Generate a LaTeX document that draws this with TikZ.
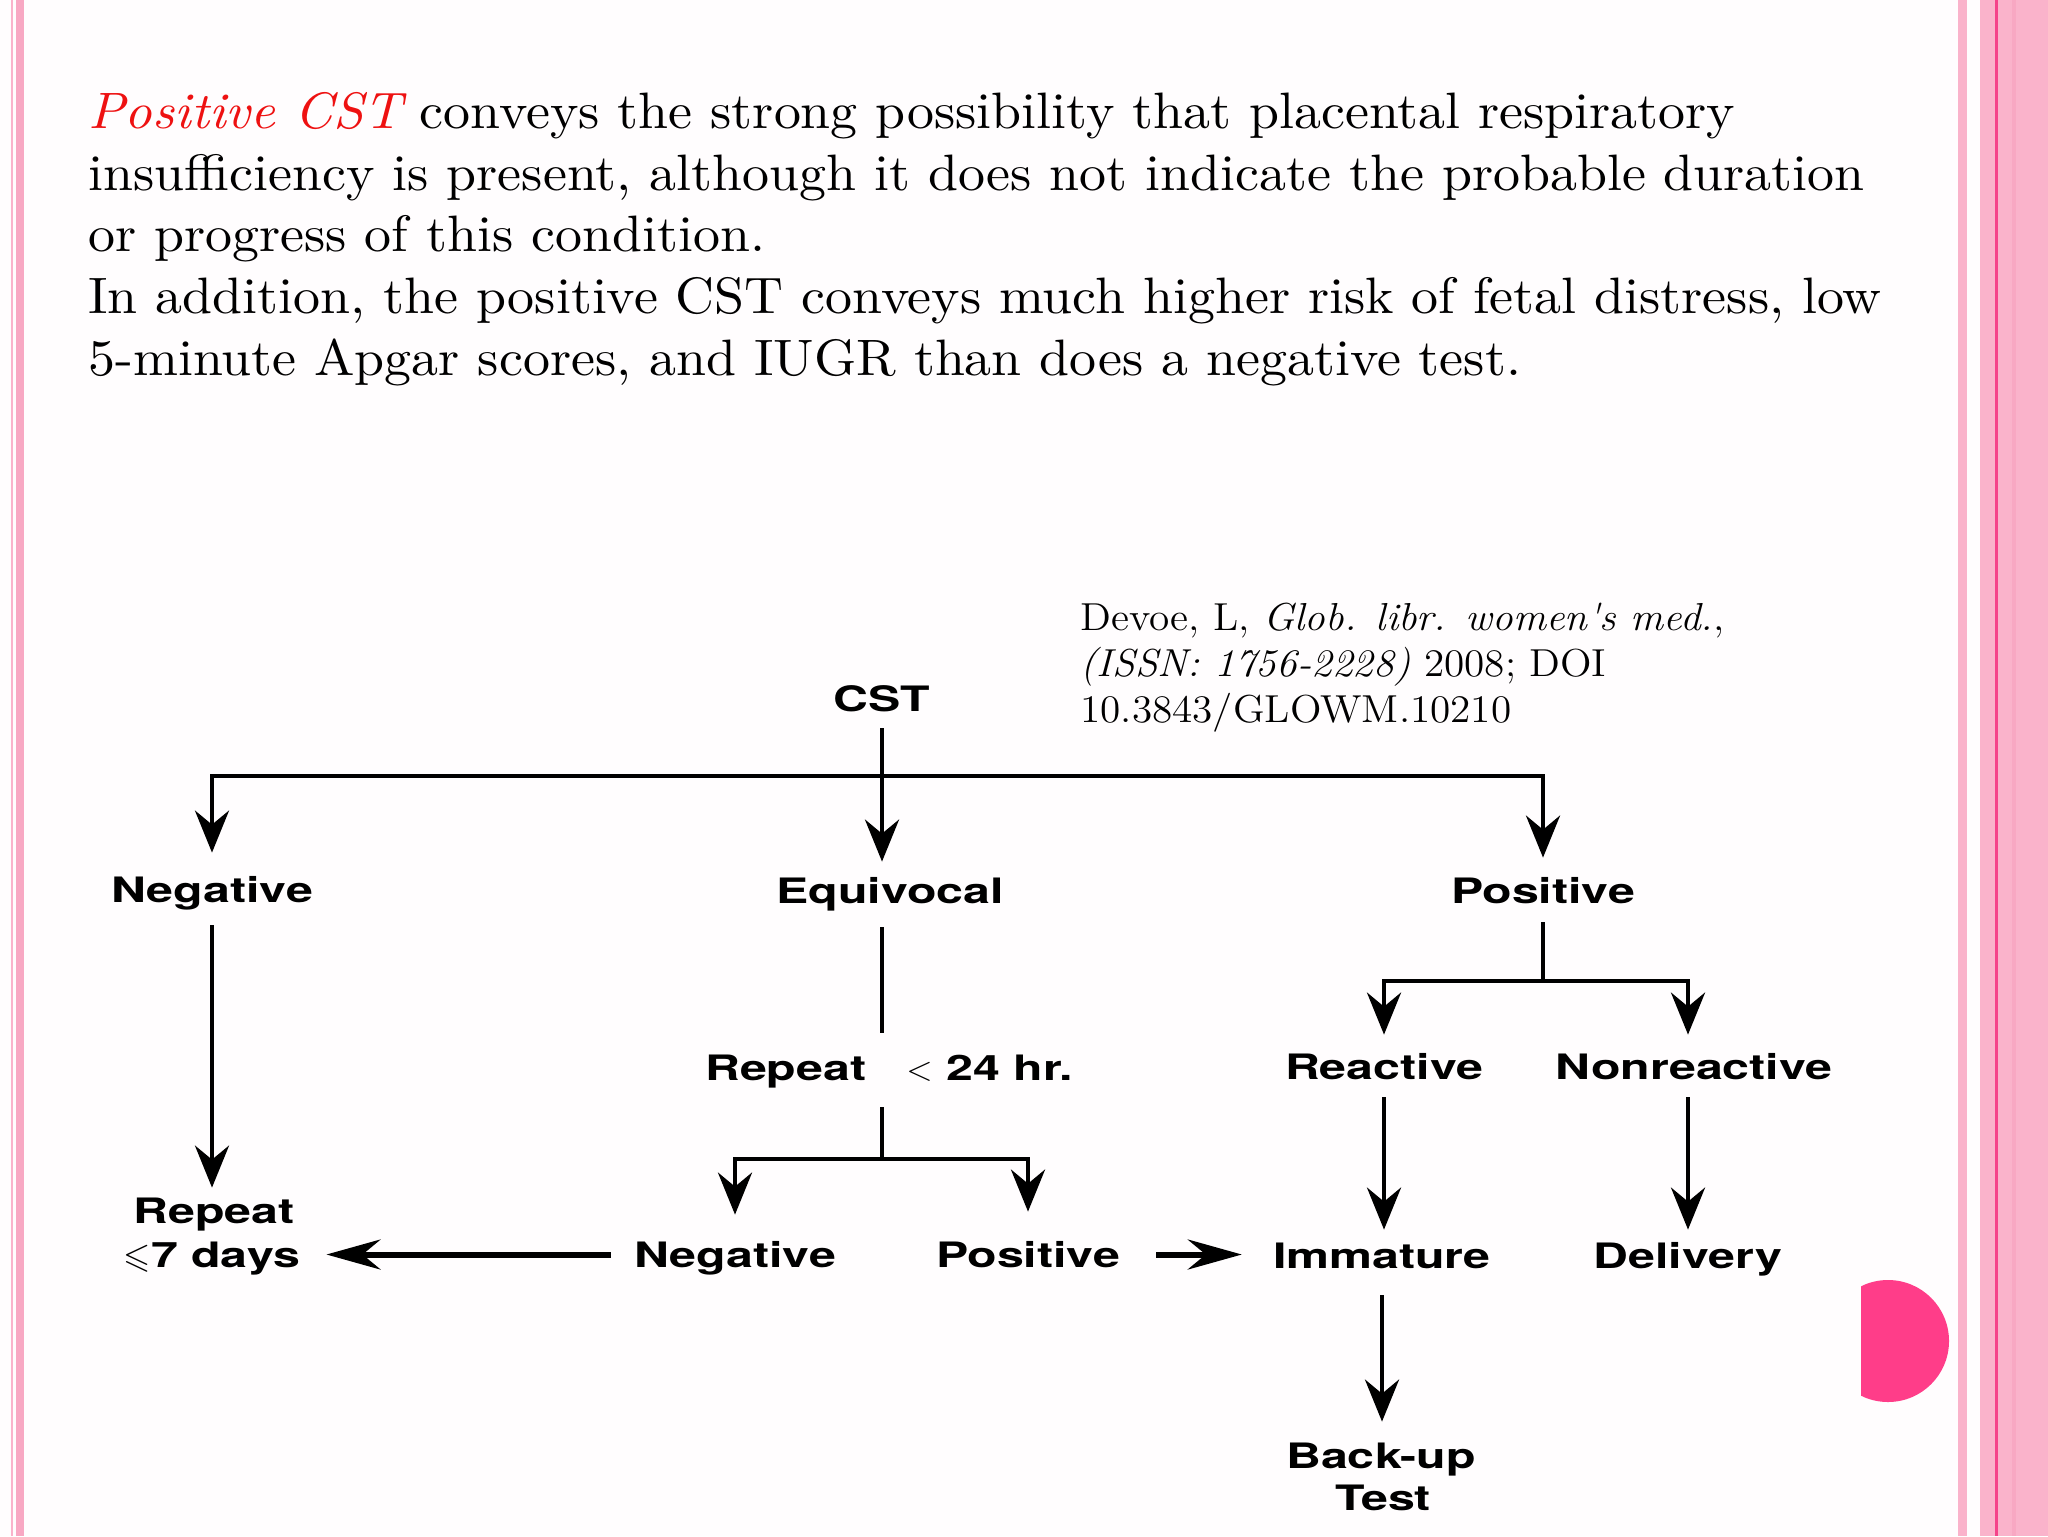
\documentclass[tikz,border=0pt]{standalone}
\usepackage{fontspec}
\usepackage{amssymb}
\usetikzlibrary{arrows.meta,calc}
\setmainfont{lmroman10}[Extension=.otf, UprightFont=*-regular, ItalicFont=*-italic, BoldFont=*-bold, BoldItalicFont=*-bolditalic, FakeStretch=1.053]
\newfontfamily\citefont{lmroman12}[Extension=.otf, UprightFont=*-regular, ItalicFont=*-italic, BoldFont=*-bold, FakeStretch=1.058]
\newfontfamily\diagfont[FakeStretch=1.38]{TeX Gyre Heros}
\definecolor{bgc}{HTML}{FFFDFE}
\definecolor{stripe}{HTML}{FAB3CB}
\definecolor{stripeb}{HTML}{F8A8C3}
\definecolor{hotpink}{HTML}{F5438A}
\definecolor{dotpink}{HTML}{FF3D89}
\definecolor{pcred}{HTML}{EE1111}
\tikzset{
  bodytxt/.style={font=\fontsize{25.6}{30.8}\selectfont, inner sep=0pt, anchor=base west},
  citetxt/.style={font=\citefont\fontsize{19.5}{23}\selectfont, inner sep=0pt, anchor=base west},
  lbl/.style={font=\diagfont\bfseries\fontsize{17.5}{21}\selectfont, inner sep=0pt, anchor=base, text height=12.5pt, text depth=0pt},
  ln/.style={line width=2.3pt},
  arr/.style={ln, -{Stealth[length=21pt,width=17pt,inset=7pt]}},
  harr/.style={line width=3pt, -{Stealth[length=27pt,width=15pt,inset=9pt]}}
}
\begin{document}
\begin{tikzpicture}[x=0.5pt,y=-0.5pt]
\useasboundingbox (0,0) rectangle (2048,1536);
\fill[bgc] (0,0) rectangle (2048,1536);
% left border stripes
\fill[stripe] (10.5,0) rectangle (13,1536);
\fill[stripeb] (15.5,0) rectangle (23.5,1536);
% right border stripes
\fill[stripe] (1958,0) rectangle (1967,1536);
\fill[stripe] (1980,0) rectangle (2048,1536);
\fill[hotpink] (1995,0) rectangle (1998,1536);
\fill[stripeb] (2012,0) rectangle (2016,1536);
% pink half disc
\begin{scope}
  \clip (1861,1270) rectangle (1960,1410);
  \fill[dotpink] (1888,1341) circle (61);
\end{scope}

% main text
\node[bodytxt] (t1) at (88,128) {{\color{pcred}\itshape Positive CST} conveys the strong possibility that placental respiratory};
\node[bodytxt] (t2) at (88,190) {insufficiency is present, although it does not indicate the probable duration};
\node[bodytxt] (t3) at (88,251.7) {or progress of this condition.};
\node[bodytxt] (t4) at (88,313) {In addition, the positive CST conveys much higher risk of fetal distress, low};
\node[bodytxt] (t5) at (88,375) {5-minute Apgar scores, and IUGR than does a negative test.};

% citation
\node[citetxt] (c1) at (1080,630) {Devoe, L, \textit{Glob. libr. women's med.},};
\node[citetxt] (c2) at (1080,676) {\textit{(ISSN: 1756-2228)} 2008; DOI};
\node[citetxt] (c3) at (1080,722) {10.3843/GLOWM.10210};

% diagram labels
\node[lbl] (cst) at (882,711) {CST};
\node[lbl] (neg1) at (212,902) {Negative};
\node[lbl] (equiv) at (890,903) {Equivocal};
\node[lbl] (pos1) at (1543,903) {Positive};
\node[lbl] (rep24) at (889,1080) {Repeat\hspace{20pt}$<$\hspace{7pt}24 hr.};
\node[lbl] (reac) at (1384,1079) {Reactive};
\node[lbl] (nonr) at (1694,1079) {Nonreactive};
\node[lbl] (rep7a) at (214,1223) {Repeat};
\node[lbl] (rep7b) at (212,1267) {$\leqslant$7 days};
\node[lbl] (neg2) at (735,1267) {Negative};
\node[lbl] (pos2) at (1028,1267) {Positive};
\node[lbl] (immat) at (1382,1268) {Immature};
\node[lbl] (deliv) at (1688,1268) {Delivery};
\node[lbl] (backup) at (1381,1468) {Back-up};
\node[lbl] (test) at (1383,1510) {Test};

% junctions
\coordinate (j1) at (cst.south |- 0,776);
\coordinate (j2) at (cst.south |- 0,1159);
\coordinate (j3) at (pos1.south |- 0,981);

% connectors
\draw[arr, shorten <=8.5pt, shorten >=8pt] (cst.south) -- (cst.south |- equiv.north);
\draw[arr, shorten >=12pt] (j1) -| (neg1.north);
\draw[arr, shorten >=10pt] (j1) -| (pos1.north);
\draw[arr, shorten <=11.5pt, shorten >=5pt] (neg1.south) -- (rep7a.north -| neg1.south);
\draw[ln, shorten <=12pt, shorten >=11pt] (equiv.south -| cst.south) -- (rep24.north -| cst.south);
\draw[ln, shorten <=13.5pt] (rep24.south -| cst.south) -- (j2);
\draw[arr, shorten >=13.5pt] (j2) -| (neg2.north);
\draw[arr, shorten >=15pt] (j2) -| (pos2.north);
\draw[harr, shorten <=11.5pt, shorten >=13pt] (neg2.west) -- (rep7b.east |- neg2.west);
\draw[harr, shorten <=18pt, shorten >=15.5pt] (pos2.east) -- (immat.west |- pos2.east);
\draw[ln, shorten <=9.5pt] (pos1.south) -- (j3);
\draw[arr, shorten >=9.5pt] (j3) -| (reac.north);
\draw[arr, shorten >=9.5pt] (j3) -| ([xshift=-3pt]nonr.north);
\draw[arr, shorten <=9pt, shorten >=6.5pt] (reac.south) -- (reac.south |- immat.north);
\draw[arr, shorten <=9pt, shorten >=6.5pt] ([xshift=-3pt]nonr.south) -- ([xshift=-3pt]nonr.south |- deliv.north);
\draw[arr, shorten <=13.5pt, shorten >=10.5pt] (immat.south) -- (immat.south |- backup.north);
\end{tikzpicture}
\end{document}
